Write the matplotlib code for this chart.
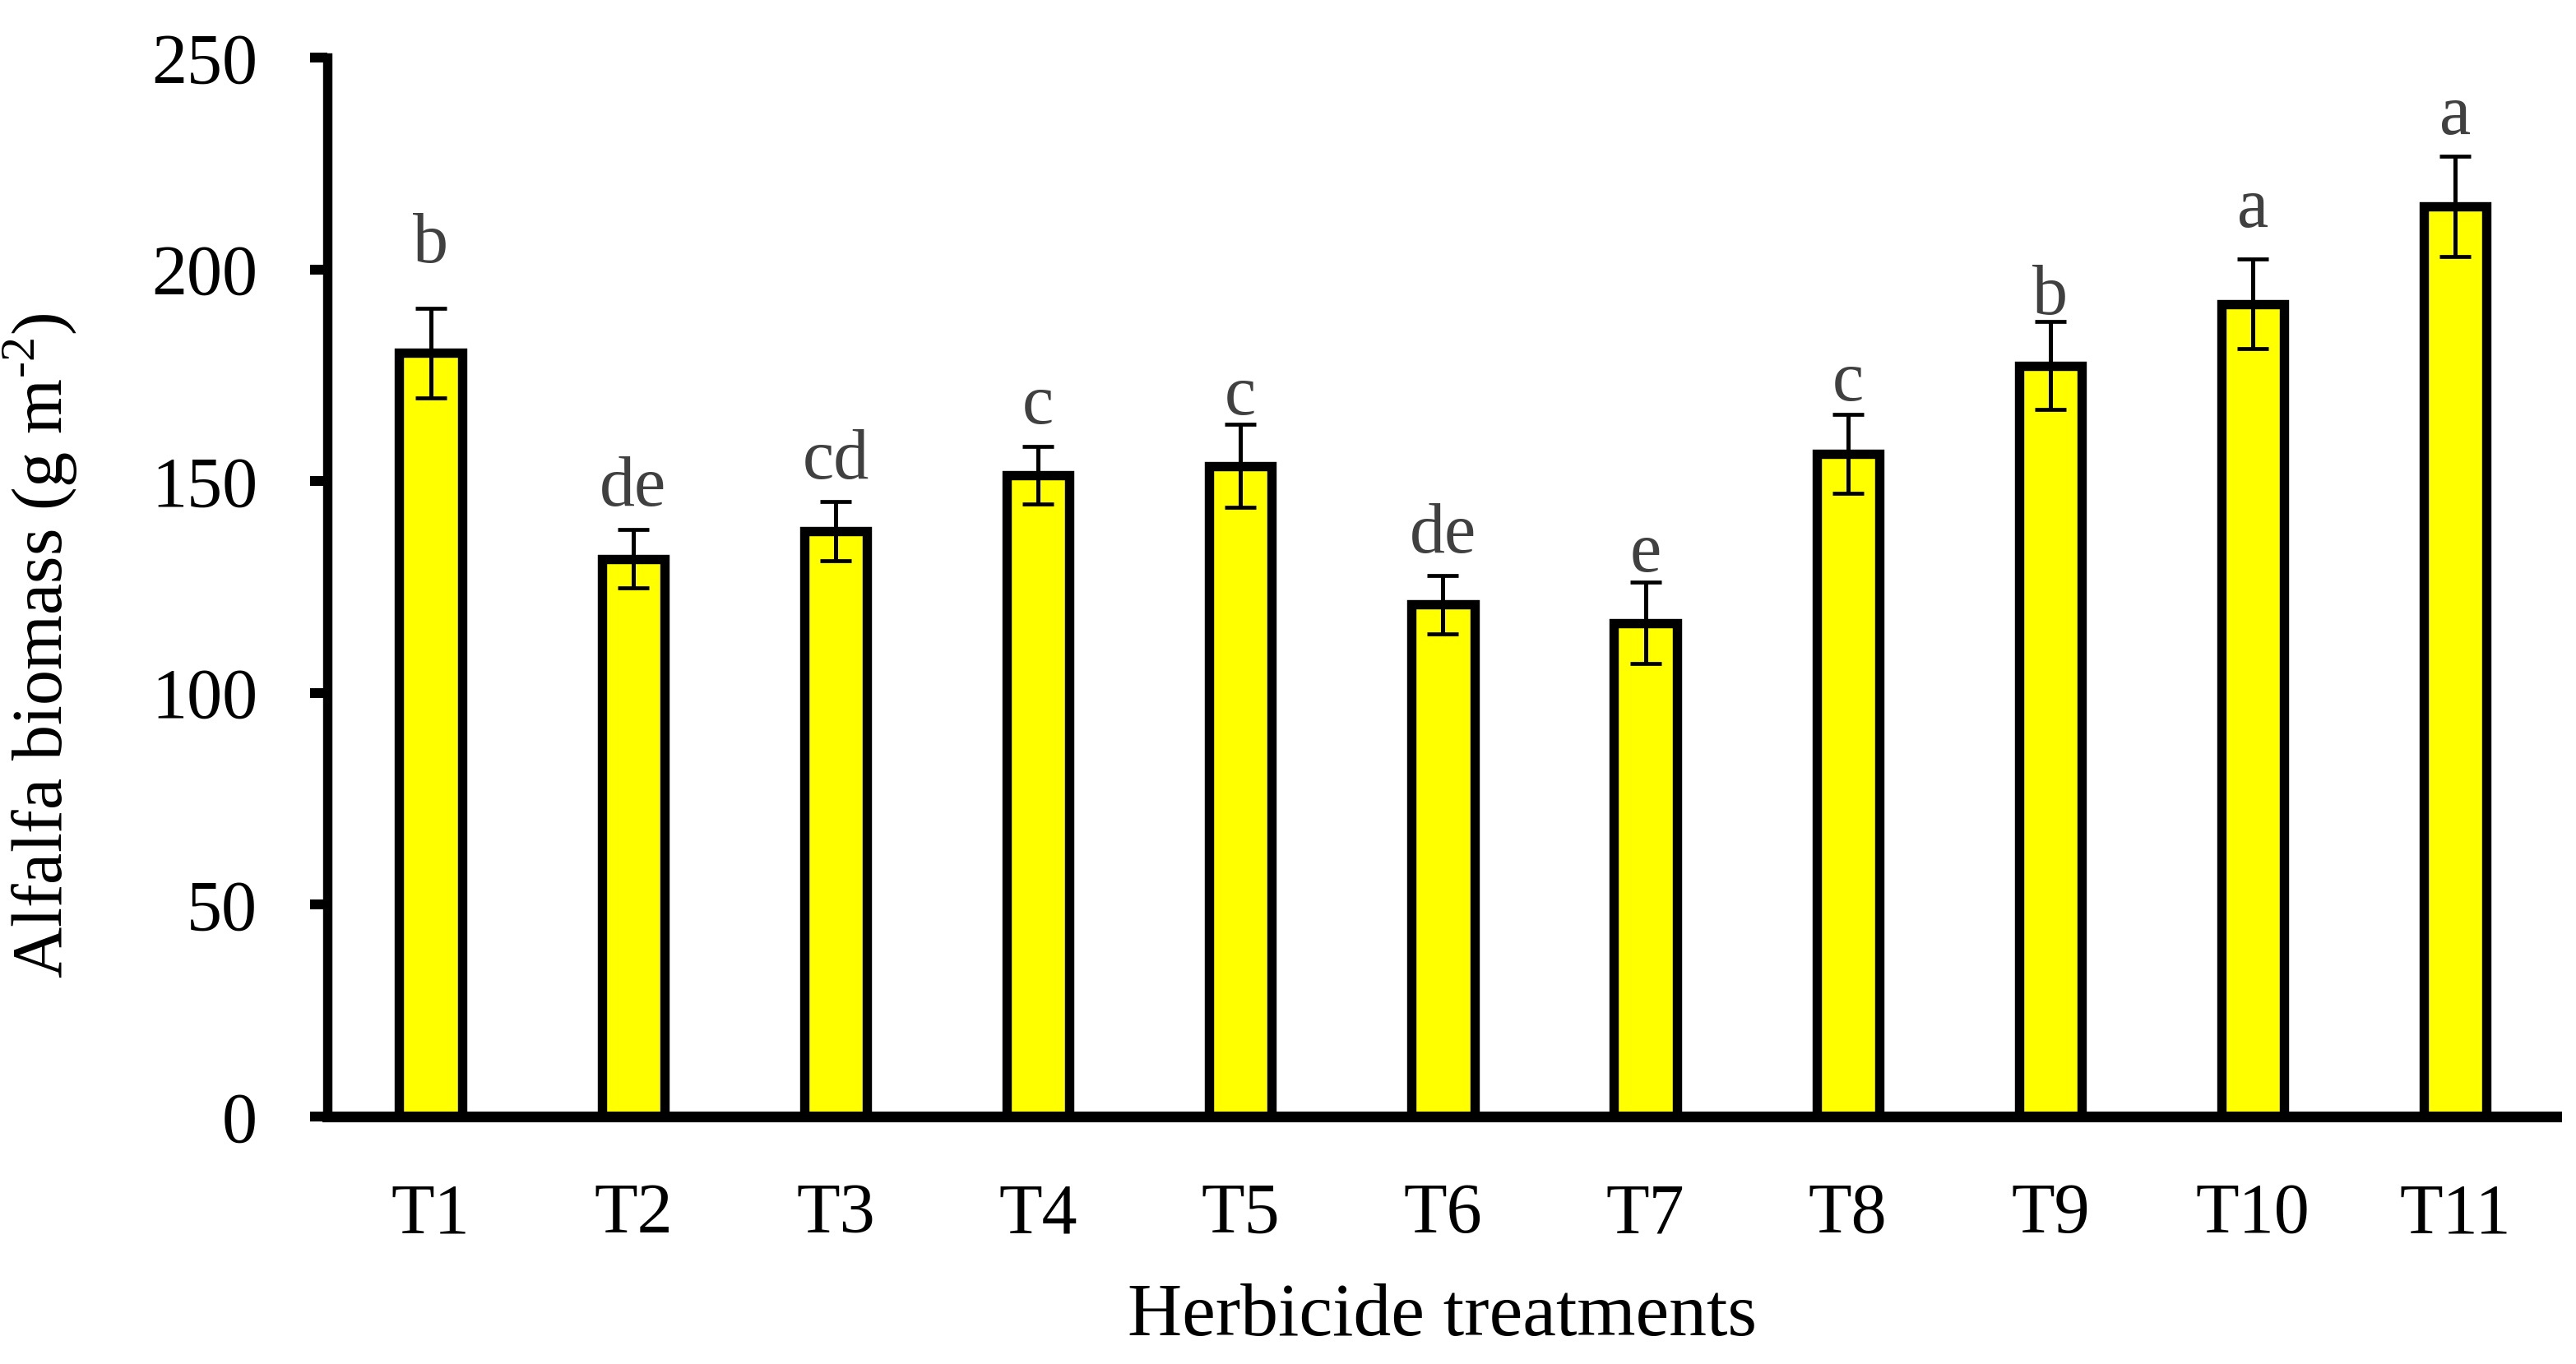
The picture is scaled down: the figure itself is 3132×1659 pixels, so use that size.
import matplotlib
matplotlib.use("Agg")
import matplotlib.pyplot as plt

plt.rcParams['font.family'] = ['Liberation Serif', 'DejaVu Serif']
plt.rcParams['mathtext.fontset'] = 'custom'
plt.rcParams['mathtext.rm'] = 'Liberation Serif'

# data
treatments = ['T1', 'T2', 'T3', 'T4', 'T5', 'T6', 'T7', 'T8', 'T9', 'T10', 'T11']
biomass = [180.3, 131.7, 138.2, 151.4, 153.6, 120.9, 116.5, 156.4, 177.3, 191.8, 214.9]
errors = [10.6, 6.8, 7.0, 6.8, 9.8, 6.9, 9.6, 9.3, 10.4, 10.6, 11.9]
letters = ['b', 'de', 'cd', 'c', 'c', 'de', 'e', 'c', 'b', 'a', 'a']
letter_y = [201.7, 144.3, 150.7, 163.6, 165.8, 133.2, 128.6, 169.1, 189.5, 210.1, 231.9]

fig = plt.figure(figsize=(15.66, 8.295), dpi=200)
ax = fig.add_axes([0.1271, 0.1814, 0.8653, 0.7764])

x = list(range(len(treatments)))
ax.bar(x, biomass, width=0.31, color='#FFFF00', edgecolor='black', linewidth=4.1, zorder=2)
ax.errorbar(x, biomass, yerr=errors, fmt='none', ecolor='black', elinewidth=1.8,
            capsize=6.8, capthick=1.7, zorder=3)

for i, lab in enumerate(letters):
    ax.text(x[i], letter_y[i], lab, ha='center', va='baseline', fontsize=31, color='#404040')

ax.set_xlim(-0.51, 10.5)
ax.set_ylim(0, 250)
ax.set_yticks([0, 50, 100, 150, 200, 250])
ax.set_xticks(x)
ax.set_xticklabels(treatments)

for s in ['top', 'right']:
    ax.spines[s].set_visible(False)
ax.spines['left'].set_linewidth(4.1)
ax.spines['bottom'].set_linewidth(4.7)
ax.spines['left'].set_zorder(4)
ax.spines['bottom'].set_zorder(4)

ax.tick_params(axis='y', direction='out', length=7.6, width=4.3, pad=23, labelsize=31)
ax.tick_params(axis='x', length=0, pad=29, labelsize=31)

ax.set_xlabel('Herbicide treatments', fontsize=33)
ax.set_ylabel('Alfalfa biomass (g m$^{\\mathregular{\u2010}2}$)', fontsize=31)
ax.xaxis.set_label_coords(0.5, -0.157)
ax.yaxis.set_label_coords(-0.111, 0.445)

fig.savefig('out.png', dpi=200)
